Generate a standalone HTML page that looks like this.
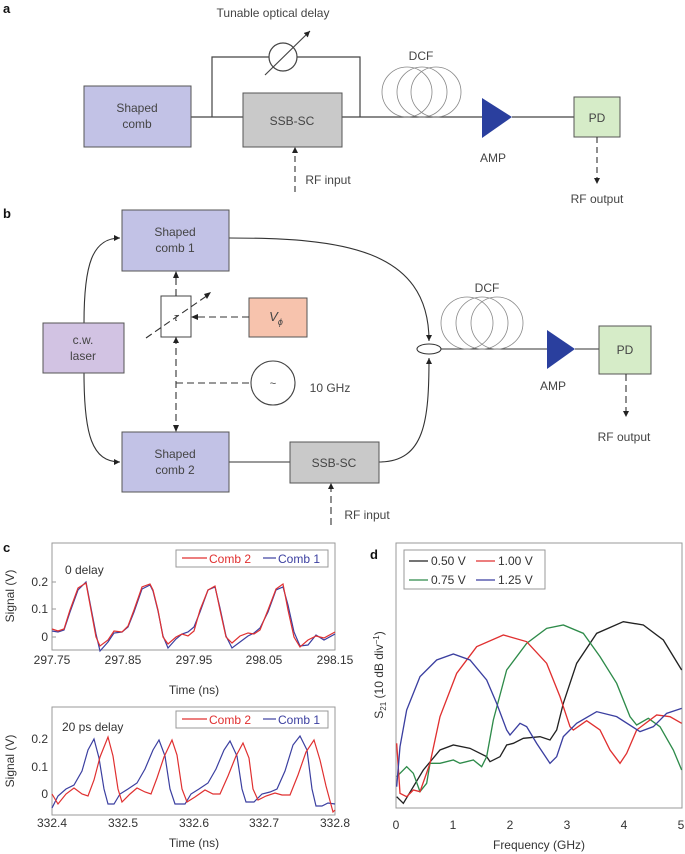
<!DOCTYPE html>
<html><head><meta charset="utf-8"><style>
body{margin:0;background:#fff}
svg{display:block;font-family:"Liberation Sans",sans-serif}
</style></head><body>
<svg width="685" height="854" viewBox="0 0 685 854" xmlns="http://www.w3.org/2000/svg">
<defs>
<marker id="ar" markerWidth="8" markerHeight="8" refX="6" refY="3" orient="auto" markerUnits="userSpaceOnUse"><path d="M0,0 L6,3 L0,6 Z" fill="#222"/></marker>
</defs>
<g font-size="12" fill="#333">
<text x="3" y="13" font-weight="bold" font-size="13" fill="#111">a</text>
<text x="3" y="218" font-weight="bold" font-size="13" fill="#111">b</text>
<text x="3" y="552" font-weight="bold" font-size="13" fill="#111">c</text>
<text x="370" y="559" font-weight="bold" font-size="13" fill="#111">d</text>
</g>
<!-- Panel a -->
<g stroke="#444" stroke-width="1.2" fill="none">
<line x1="191" y1="117" x2="243" y2="117"/>
<polyline points="212,117 212,57 269,57"/>
<polyline points="297,57 360,57 360,117"/>
<line x1="342" y1="117" x2="482" y2="117"/>
<line x1="512" y1="117" x2="574" y2="117"/>
<ellipse cx="283" cy="57" rx="14" ry="14"/>
<line x1="265" y1="75" x2="310" y2="31" marker-end="url(#ar)"/>
</g>
<g stroke="#888" stroke-width="0.8" fill="none">
<circle cx="407" cy="92" r="25"/><circle cx="422" cy="92" r="25"/><circle cx="436" cy="92" r="25"/>
</g>
<rect x="84" y="86" width="107" height="61" fill="#c2c2e6" stroke="#555"/>
<rect x="243" y="93" width="99" height="54" fill="#c9c9c9" stroke="#555"/>
<polygon points="482,98 512,117 482,138" fill="#2a3f9e"/>
<rect x="574" y="97" width="46" height="40" fill="#d6ecc8" stroke="#555"/>
<g stroke="#333" stroke-width="1.1" stroke-dasharray="6,4" fill="none">
<line x1="295" y1="192" x2="295" y2="152"/>
<line x1="597" y1="137" x2="597" y2="180"/>
</g>
<polygon points="292,153 295,147 298,153" fill="#222"/>
<polygon points="594,178 597,184 600,178" fill="#222"/>
<g font-size="12" fill="#444" text-anchor="middle">
<text x="273" y="17">Tunable optical delay</text>
<text x="421" y="60">DCF</text>
<text x="137" y="112">Shaped</text><text x="137" y="128">comb</text>
<text x="292" y="125">SSB-SC</text>
<text x="597" y="122">PD</text>
<text x="493" y="162">AMP</text>
<text x="328" y="184">RF input</text>
<text x="597" y="203">RF output</text>
</g>
<!-- Panel b -->
<g stroke="#333" stroke-width="1.1" fill="none">
<path d="M84,323 C84,265 92,238 120,238" marker-end="url(#ar)"/>
<path d="M84,373 C84,435 92,462 120,462" marker-end="url(#ar)"/>
<path d="M229,238 C340,238 429,248 429,341" marker-end="url(#ar)"/>
<path d="M379,462 C425,462 429,420 429,358" marker-end="url(#ar)"/>
<line x1="229" y1="462" x2="290" y2="462"/>
<line x1="441" y1="349" x2="547" y2="349"/>
<line x1="575" y1="349" x2="599" y2="349"/>
<ellipse cx="429" cy="349" rx="12" ry="5"/>
</g>
<g stroke="#888" stroke-width="0.8" fill="none">
<circle cx="467" cy="323" r="26"/><circle cx="482" cy="323" r="26"/><circle cx="497" cy="323" r="26"/>
</g>
<rect x="122" y="210" width="107" height="61" fill="#c2c2e6" stroke="#555"/>
<rect x="122" y="432" width="107" height="60" fill="#c2c2e6" stroke="#555"/>
<rect x="43" y="323" width="81" height="50" fill="#d2c3e3" stroke="#555"/>
<rect x="290" y="442" width="89" height="41" fill="#c9c9c9" stroke="#555"/>
<rect x="249" y="298" width="58" height="39" fill="#f7c3ad" stroke="#555"/>
<rect x="161" y="296" width="30" height="41" fill="#fff" stroke="#444"/>
<circle cx="273" cy="383" r="22" fill="#fff" stroke="#444" stroke-width="1.1"/>
<polygon points="547,330 575,349 547,369" fill="#2a3f9e"/>
<rect x="599" y="326" width="52" height="48" fill="#d6ecc8" stroke="#555"/>
<g stroke="#333" stroke-width="1.1" stroke-dasharray="7,4" fill="none">
<line x1="176" y1="296" x2="176" y2="277"/>
<line x1="176" y1="337" x2="176" y2="426"/>
<line x1="176" y1="383" x2="251" y2="383"/>
<line x1="249" y1="317" x2="197" y2="317"/>
<line x1="146" y1="338" x2="208" y2="295"/>
<line x1="331" y1="525" x2="331" y2="489"/>
<line x1="626" y1="374" x2="626" y2="412"/>
</g>
<g fill="#222">
<polygon points="173,278 176,271 179,278"/>
<polygon points="173,343 176,337 179,343"/>
<polygon points="173,425 176,432 179,425"/>
<polygon points="198,314 191,317 198,320"/>
<polygon points="204,294 211,292 207,299"/>
<polygon points="328,489 331,483 334,489"/>
<polygon points="623,411 626,417 629,411"/>
</g>
<g font-size="12" fill="#444" text-anchor="middle">
<text x="175" y="236">Shaped</text><text x="175" y="252">comb 1</text>
<text x="175" y="458">Shaped</text><text x="175" y="474">comb 2</text>
<text x="83" y="344">c.w.</text><text x="83" y="360">laser</text>
<text x="334" y="467">SSB-SC</text>
<text x="176" y="321" font-style="italic" font-size="11">τ</text>
<text x="276" y="321" font-style="italic" font-size="13">V<tspan font-size="9" dy="4">ϕ</tspan></text>
<text x="273" y="387" font-size="11">~</text>
<text x="330" y="392">10 GHz</text>
<text x="487" y="292">DCF</text>
<text x="553" y="390">AMP</text>
<text x="625" y="354">PD</text>
<text x="624" y="441">RF output</text>
<text x="367" y="519">RF input</text>
</g>
<!-- Panel c top -->
<rect x="52" y="543" width="283" height="107" fill="#fff" stroke="#999" stroke-width="1"/>
<g fill="none" stroke-width="1.2">
<polyline stroke="#3b3fa0" points="52,631 58,632 64,630 70,612 78,590 86,582 91,608 96,634 100,651 108,642 114,633 122,632 128,627 134,612 142,589 150,585 153,591 158,611 163,636 168,648 176,639 182,634 188,632 194,627 200,612 208,590 215,587 220,608 226,636 232,648 240,642 248,636 254,633 260,628 268,612 276,590 283,587 288,605 294,632 300,646 308,645 316,635 324,640 335,634"/>
<polyline stroke="#e03030" points="52,629 58,631 64,629 70,610 78,588 86,583 91,610 96,637 100,646 108,640 114,631 122,632 128,626 134,610 142,587 150,584 153,590 158,610 163,637 168,644 176,637 182,634 188,636 194,631 200,610 208,590 215,586 220,610 226,637 232,643 240,636 248,633 254,634 260,630 268,610 276,589 283,584 288,610 294,637 300,647 308,640 316,636 324,638 335,632"/>
</g>
<rect x="176" y="550" width="152" height="17" fill="#fff" stroke="#999"/>
<line x1="182" y1="558" x2="207" y2="558" stroke="#e03030" stroke-width="1.2"/>
<line x1="263" y1="558" x2="276" y2="558" stroke="#3b3fa0" stroke-width="1.2"/>
<g font-size="12">
<text x="209" y="563" fill="#e03030">Comb 2</text>
<text x="278" y="563" fill="#3b3fa0">Comb 1</text>
<text x="65" y="574" fill="#333">0 delay</text>
</g>
<g font-size="12" fill="#333" text-anchor="end">
<text x="48" y="586">0.2</text><text x="48" y="613">0.1</text><text x="48" y="641">0</text>
<text x="48" y="743">0.2</text><text x="48" y="771">0.1</text><text x="48" y="798">0</text>
</g>
<g stroke="#999"><line x1="52" y1="582" x2="56" y2="582"/><line x1="52" y1="609" x2="56" y2="609"/><line x1="52" y1="637" x2="56" y2="637"/>
<line x1="52" y1="739" x2="56" y2="739"/><line x1="52" y1="767" x2="56" y2="767"/><line x1="52" y1="794" x2="56" y2="794"/></g>
<g font-size="12" fill="#333" text-anchor="middle">
<text x="52" y="664">297.75</text><text x="123" y="664">297.85</text><text x="194" y="664">297.95</text><text x="264" y="664">298.05</text><text x="335" y="664">298.15</text>
<text x="194" y="694">Time (ns)</text>
<text x="52" y="827">332.4</text><text x="123" y="827">332.5</text><text x="194" y="827">332.6</text><text x="264" y="827">332.7</text><text x="335" y="827">332.8</text>
<text x="194" y="847">Time (ns)</text>
</g>
<text transform="translate(14,596) rotate(-90)" font-size="12" fill="#333" text-anchor="middle">Signal (V)</text>
<text transform="translate(14,761) rotate(-90)" font-size="12" fill="#333" text-anchor="middle">Signal (V)</text>
<!-- Panel c bottom -->
<rect x="52" y="707" width="283" height="108" fill="#fff" stroke="#999"/>
<g fill="none" stroke-width="1.2">
<polyline stroke="#3b3fa0" points="52,808 58,796 66,789 74,785 82,771 88,750 94,739 99,758 104,789 108,804 114,804 120,794 128,789 137,783 145,769 153,750 159,740 165,756 170,789 175,804 185,804 191,794 199,789 208,783 216,769 224,750 230,741 237,756 242,789 246,802 254,802 262,794 270,792 277,789 285,771 293,745 300,736 307,750 312,789 316,806 322,806 328,803 335,804"/>
<polyline stroke="#e03030" points="52,794 58,804 66,794 74,788 82,794 88,796 94,780 100,757 108,737 113,756 118,789 122,802 130,794 137,788 145,792 151,794 157,778 164,757 172,740 177,755 182,789 187,802 195,797 205,790 213,794 220,794 228,776 236,756 243,743 249,758 253,789 258,800 266,796 275,793 282,795 290,795 298,775 306,752 314,740 320,760 326,786 333,812 335,810"/>
</g>
<rect x="176" y="711" width="152" height="17" fill="#fff" stroke="#999"/>
<line x1="182" y1="719" x2="207" y2="719" stroke="#e03030" stroke-width="1.2"/>
<line x1="263" y1="719" x2="276" y2="719" stroke="#3b3fa0" stroke-width="1.2"/>
<g font-size="12">
<text x="209" y="724" fill="#e03030">Comb 2</text>
<text x="278" y="724" fill="#3b3fa0">Comb 1</text>
<text x="62" y="731" fill="#333">20 ps delay</text>
</g>
<!-- Panel d -->
<rect x="396" y="543" width="286" height="265" fill="#fff" stroke="#999"/>
<g transform="translate(390,530) scale(0.33333)" fill="none" stroke-width="4">
<polyline stroke="#222" points="20,800 40,820 70,770 100,720 150,660 190,645 240,655 290,680 300,695 330,680 350,645 370,640 400,625 450,620 480,630 500,600 520,520 560,400 620,310 700,275 760,285 820,330 875,420"/>
<polyline stroke="#2e8b4a" points="20,740 50,710 70,730 90,785 110,760 120,700 150,700 190,690 210,700 250,690 275,710 290,680 310,570 350,420 410,340 470,295 520,285 580,310 630,380 680,460 720,560 740,585 775,565 810,590 850,660 875,720"/>
<polyline stroke="#e03030" points="20,640 30,790 50,800 70,780 90,785 120,700 150,560 200,430 260,350 340,315 410,335 470,400 510,500 540,590 550,600 590,572 630,600 660,660 690,700 710,670 740,600 800,555 840,560 875,580"/>
<polyline stroke="#3b3fa0" points="20,770 30,650 50,540 90,440 140,390 190,372 240,390 290,450 320,520 350,600 360,615 390,580 410,590 440,640 480,700 500,680 520,620 560,580 620,545 680,560 750,605 790,590 830,550 875,535"/>
</g>
<rect x="404" y="550" width="141" height="39" fill="#fff" stroke="#999"/>
<g stroke-width="1.2">
<line x1="409" y1="561" x2="428" y2="561" stroke="#222"/>
<line x1="476" y1="561" x2="495" y2="561" stroke="#e03030"/>
<line x1="409" y1="580" x2="428" y2="580" stroke="#2e8b4a"/>
<line x1="476" y1="580" x2="495" y2="580" stroke="#3b3fa0"/>
</g>
<g font-size="12" fill="#333">
<text x="431" y="565">0.50 V</text><text x="498" y="565">1.00 V</text>
<text x="431" y="584">0.75 V</text><text x="498" y="584">1.25 V</text>
</g>
<g font-size="12" fill="#333" text-anchor="middle">
<text x="396" y="829">0</text><text x="453" y="829">1</text><text x="510" y="829">2</text><text x="567" y="829">3</text><text x="624" y="829">4</text><text x="681" y="829">5</text>
<text x="539" y="849">Frequency (GHz)</text>
</g>
<text transform="translate(383,675) rotate(-90)" font-size="12" fill="#333" text-anchor="middle">S<tspan font-size="8" dy="3">21</tspan><tspan dy="-3"> (10 dB div</tspan><tspan font-size="8" dy="-4">−1</tspan><tspan dy="4">)</tspan></text>
</svg>
</body></html>
